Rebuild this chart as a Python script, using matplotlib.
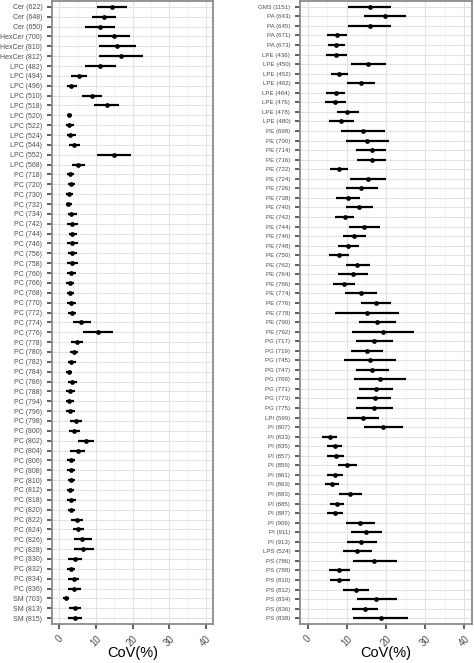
import numpy as np
import matplotlib
matplotlib.use("Agg")
import matplotlib.pyplot as plt
from matplotlib.ticker import MultipleLocator

plt.rcParams['font.family'] = ['Liberation Sans', 'DejaVu Sans']

# painel esquerdo
left_labels = [
    "Cer (622)", "Cer (648)", "Cer (650)", "HexCer (700)", "HexCer (810)", "HexCer (812)",
    "LPC (482)", "LPC (494)", "LPC (496)", "LPC (510)", "LPC (518)", "LPC (520)",
    "LPC (522)", "LPC (524)", "LPC (544)", "LPC (552)", "LPC (568)",
    "PC (718)", "PC (720)", "PC (730)", "PC (732)", "PC (734)", "PC (742)", "PC (744)",
    "PC (746)", "PC (756)", "PC (758)", "PC (760)", "PC (766)", "PC (768)", "PC (770)",
    "PC (772)", "PC (774)", "PC (776)", "PC (778)", "PC (780)", "PC (782)", "PC (784)",
    "PC (786)", "PC (788)", "PC (794)", "PC (796)", "PC (798)", "PC (800)", "PC (802)",
    "PC (804)", "PC (806)", "PC (808)", "PC (810)", "PC (812)", "PC (818)", "PC (820)",
    "PC (822)", "PC (824)", "PC (826)", "PC (828)", "PC (830)", "PC (832)", "PC (834)",
    "PC (836)", "SM (703)", "SM (813)", "SM (815)",
]
left_mid = [
    14.4, 12.2, 11.1, 14.9, 15.8, 16.8,
    11.1, 5.3, 3.3, 8.8, 12.9, 2.7, 2.7, 3.0, 4.0, 15.0, 5.2,
    2.9, 3.2, 2.6, 2.5, 3.3, 3.5, 3.5, 3.4, 3.5, 3.5, 3.2, 2.9, 3.0, 3.2,
    3.4, 6.0, 10.5, 4.9, 4.0, 3.3, 2.6, 3.5, 2.9, 2.7, 2.9, 4.5, 4.0, 7.2,
    5.0, 3.1, 3.2, 3.2, 2.9, 3.1, 3.2, 4.9, 5.2, 6.2, 6.6, 4.3, 3.2, 4.0,
    4.1, 1.7, 4.2, 4.3,
]
left_low = [
    10.3, 8.9, 7.0, 10.6, 10.8, 10.8,
    7.0, 3.3, 2.2, 6.2, 9.5, 2.0, 1.7, 2.0, 2.6, 10.3, 3.6,
    2.0, 2.3, 1.7, 1.8, 2.3, 2.1, 2.6, 2.1, 2.3, 2.1, 2.1, 1.9, 2.0, 2.0,
    2.4, 3.7, 6.5, 3.3, 2.8, 2.3, 1.8, 2.3, 1.9, 1.8, 1.9, 2.8, 2.6, 5.0,
    2.9, 2.1, 2.2, 2.3, 2.0, 2.0, 2.3, 3.1, 3.7, 3.9, 3.9, 2.4, 2.2, 2.5,
    2.5, 0.9, 2.6, 2.5,
]
left_high = [
    18.6, 15.5, 15.3, 19.2, 20.9, 22.9,
    15.5, 7.6, 4.7, 11.7, 16.4, 3.6, 4.0, 4.5, 5.6, 19.6, 7.0,
    4.0, 4.3, 3.8, 3.6, 4.7, 5.2, 4.7, 5.0, 4.9, 5.2, 4.6, 4.1, 4.1, 4.5,
    4.5, 8.7, 14.8, 6.5, 5.2, 4.5, 3.6, 4.9, 4.3, 4.1, 4.2, 6.2, 5.6, 9.5,
    7.1, 4.2, 4.3, 4.4, 4.1, 4.5, 4.4, 6.5, 6.7, 8.8, 9.5, 6.2, 4.4, 5.5,
    5.9, 2.7, 5.9, 6.2,
]

# painel direito
right_labels = [
    "GM3 (1151)", "PA (643)", "PA (645)", "PA (671)", "PA (673)",
    "LPE (436)", "LPE (450)", "LPE (452)", "LPE (462)", "LPE (464)", "LPE (476)",
    "LPE (478)", "LPE (480)",
    "PE (698)", "PE (700)", "PE (714)", "PE (716)", "PE (722)", "PE (724)", "PE (726)",
    "PE (738)", "PE (740)", "PE (742)", "PE (744)", "PE (746)", "PE (748)", "PE (750)",
    "PE (762)", "PE (764)", "PE (766)", "PE (774)", "PE (776)", "PE (778)", "PE (790)",
    "PE (792)",
    "PG (717)", "PG (719)", "PG (745)", "PG (747)", "PG (769)", "PG (771)", "PG (773)",
    "PG (775)", "LPI (599)",
    "PI (807)", "PI (833)", "PI (835)", "PI (857)", "PI (859)", "PI (861)", "PI (863)",
    "PI (883)", "PI (885)", "PI (887)", "PI (909)", "PI (911)", "PI (913)",
    "LPS (524)", "PS (786)", "PS (788)", "PS (810)", "PS (812)", "PS (834)", "PS (836)",
    "PS (838)",
]
right_mid = [
    15.8, 19.7, 15.8, 7.5, 7.2,
    7.1, 15.4, 8.1, 13.5, 7.1, 7.0, 10.1, 8.6,
    14.2, 15.1, 16.3, 16.3, 8.0, 15.5, 13.7, 10.2, 13.0, 9.4, 14.4, 11.9, 10.3, 8.0,
    12.7, 11.6, 9.2, 13.6, 17.4, 15.2, 17.7, 19.2,
    16.9, 15.1, 15.8, 16.4, 18.5, 17.5, 17.1, 16.9, 14.0,
    19.2, 5.6, 6.9, 7.2, 10.1, 6.9, 6.2, 10.8, 7.5, 6.9, 13.4, 15.0, 13.7,
    12.5, 17.0, 8.1, 8.1, 12.2, 17.5, 14.6, 18.6,
]
right_low = [
    10.3, 14.4, 10.3, 4.8, 5.2,
    4.6, 11.0, 6.0, 10.0, 4.7, 4.4, 7.5, 5.4,
    8.6, 9.7, 12.4, 12.5, 5.7, 10.9, 9.8, 7.2, 9.7, 7.0, 10.5, 9.1, 7.7, 5.3,
    9.7, 7.8, 6.5, 9.6, 13.5, 7.0, 13.1, 11.4,
    12.2, 11.1, 9.2, 12.2, 11.8, 13.0, 12.7, 12.2, 10.0,
    14.4, 3.6, 4.9, 5.0, 7.6, 4.8, 4.5, 7.9, 5.6, 4.9, 9.7, 11.1, 9.9,
    9.1, 11.6, 5.3, 5.6, 9.1, 12.5, 11.3, 11.6,
]
right_high = [
    21.4, 25.1, 21.4, 10.1, 9.4,
    9.9, 19.9, 10.3, 17.1, 9.5, 9.8, 13.1, 11.8,
    19.7, 20.8, 20.0, 20.0, 10.2, 20.1, 17.9, 13.4, 16.7, 11.9, 18.4, 14.8, 13.1, 10.6,
    15.9, 15.4, 12.0, 17.7, 21.4, 23.4, 22.5, 27.1,
    21.9, 19.2, 22.5, 20.7, 25.2, 21.9, 21.4, 21.9, 18.1,
    24.3, 7.5, 8.7, 9.3, 12.7, 8.9, 8.1, 13.9, 9.2, 9.0, 17.1, 19.1, 17.7,
    16.4, 22.8, 10.9, 10.8, 15.6, 22.7, 18.0, 25.6,
]

W, H = 474, 663
fig = plt.figure(figsize=(W / 100, H / 100), dpi=100)


def painel(rect, labels, mid, low, high, fs):
    ax = fig.add_axes(rect)
    y = np.arange(len(labels))
    mid = np.array(mid)
    xerr = [mid - np.array(low), np.array(high) - mid]
    ax.errorbar(mid, y, xerr=xerr, fmt='o', color='black', ms=2.4,
                elinewidth=1.6, capsize=0, zorder=3)
    ax.set_xlim(-2, 42)
    ax.set_ylim(len(labels) - 0.4, -0.6)
    ax.set_yticks(y)
    ax.set_yticklabels(labels, fontsize=fs, color='#4d4d4d')
    ax.xaxis.set_major_locator(MultipleLocator(10))
    ax.xaxis.set_minor_locator(MultipleLocator(5))
    ax.set_xticklabels([])
    for t in [0, 10, 20, 30, 40]:
        ax.text(t, len(labels) + 0.6, str(t), rotation=45, ha='center', va='top',
                fontsize=7, color='#4d4d4d')
    ax.grid(which='major', color='#e3e3e3', lw=0.8)
    ax.grid(which='minor', axis='x', color='#f2f2f2', lw=0.6)
    ax.set_axisbelow(True)
    ax.tick_params(axis='both', which='major', length=3.5, width=1.1, color='#333333')
    ax.tick_params(axis='x', which='minor', length=0)
    for s in ax.spines.values():
        s.set_color('#8a8a8a')
        s.set_linewidth(1.3)
    ax.set_xlabel("CoV(%)", fontsize=10.5, labelpad=9)
    return ax


painel([52 / W, 39 / H, 161 / W, 623 / H], left_labels, left_mid, left_low, left_high, 5.0)
painel([300 / W, 39 / H, 172 / W, 623 / H], right_labels, right_mid, right_low, right_high, 4.4)

fig.savefig("out.png", dpi=100)
